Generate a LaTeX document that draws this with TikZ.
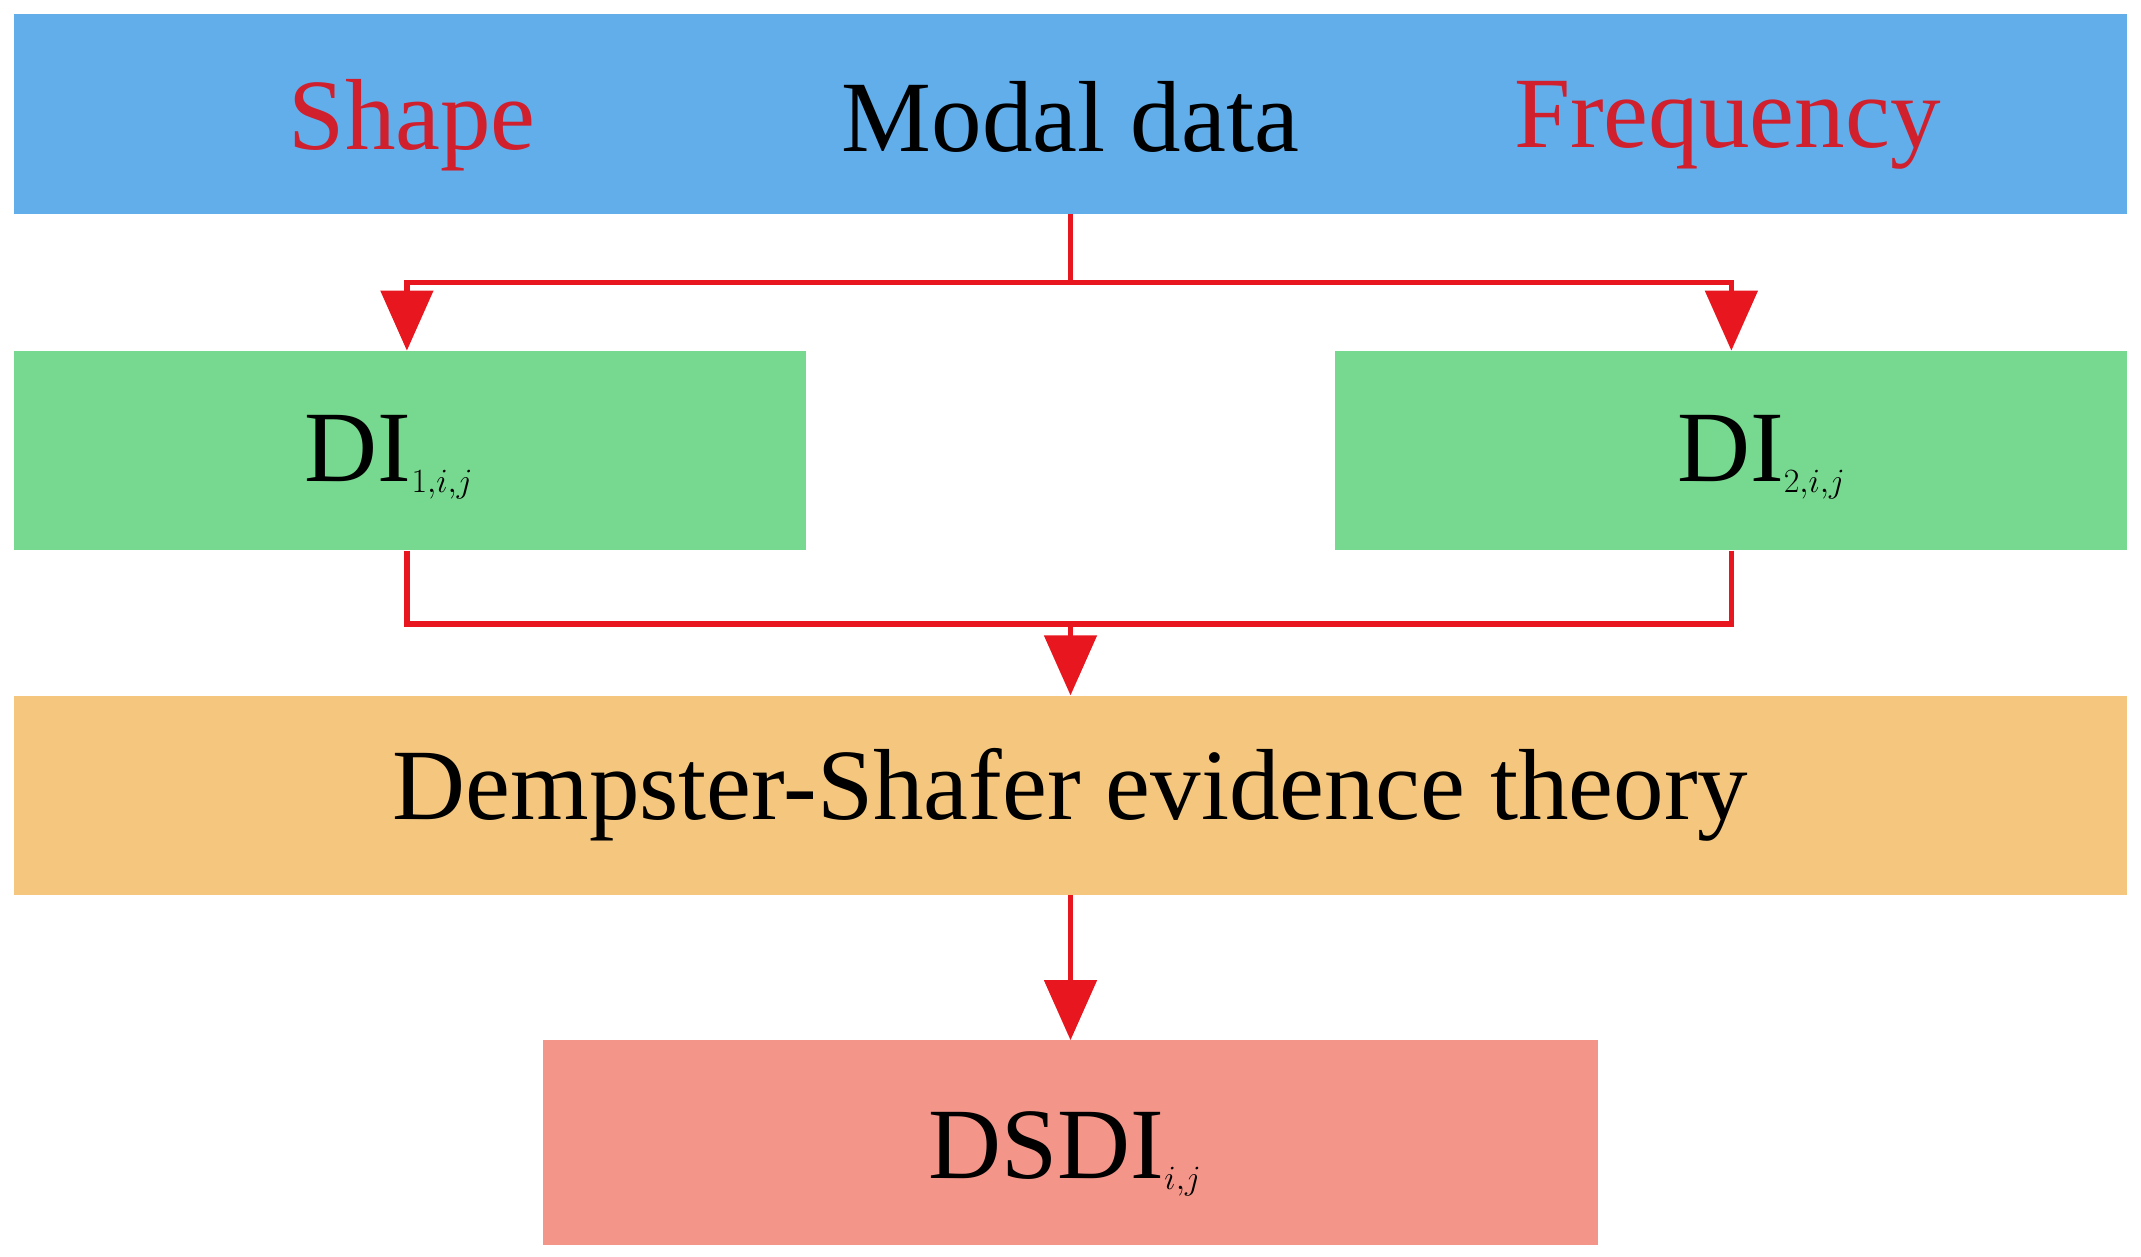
\documentclass[tikz,border=0pt]{standalone}
\usepackage{fontspec}
\setmainfont{Liberation Serif}
\usetikzlibrary{arrows.meta}
\definecolor{cblue}{HTML}{62AEEA}
\definecolor{cgreen}{HTML}{77D88F}
\definecolor{corange}{HTML}{F5C77E}
\definecolor{cpink}{HTML}{F4958A}
\definecolor{cred}{HTML}{E8161E}
\definecolor{ctxt}{HTML}{D0202E}
\begin{document}
\begin{tikzpicture}[x=1pt,y=-1pt,
  box/.style={draw=none,minimum height=146pt,inner sep=0pt},
  lbl/.style={font=\fontsize{74}{80}\selectfont},
  conn/.style={draw=cred,line width=4pt},
  arr/.style={conn,-{Triangle[length=44pt,width=38pt]}}]
\useasboundingbox (0,0) rectangle (1568,920);
\node[box,fill=cblue,minimum width=1548pt] (top) at (784,83.5) {};
\node[box,fill=cgreen,minimum width=580pt] (g1) at (300,330) {};
\node[box,fill=cgreen,minimum width=580pt] (g2) at (1268,330) {};
\node[box,fill=corange,minimum width=1548pt] (ds) at (784,582.5) {};
\node[box,fill=cpink,minimum width=772pt,minimum height=150pt] (out) at (784,837) {};
\node[lbl,text=ctxt] (shape) at (302,92) {Shape};
\node[lbl] (modal) at (784,86) {Modal data};
\node[lbl,text=ctxt] (freq) at (1265,92) {Frequency};
\node[lbl] (t1) at (285,335) {DI$_{1,i,j}$};
\node[lbl] (t2) at (1290,335) {DI$_{2,i,j}$};
\node[lbl] (tds) at (784,582) {Dempster-Shafer evidence theory};
\node[lbl] (tout) at (780,845) {DSDI$_{i,j}$};
\coordinate (s1) at (784,207);
\draw[conn] (top.south) -- (s1);
\draw[arr] (s1) -| (g1.north -| 298,0);
\draw[arr] (s1) -| (g2.north);
\coordinate (m) at (784,457);
\draw[conn] (g1.south -| 298,0) |- (m);
\draw[conn] (g2.south) |- (m);
\draw[arr] (m) -- (ds.north);
\draw[arr] (ds.south) -- (out.north);
\end{tikzpicture}
\end{document}
